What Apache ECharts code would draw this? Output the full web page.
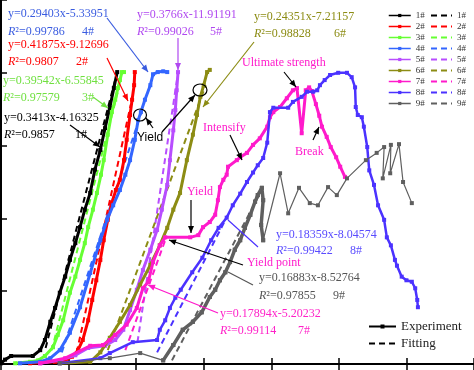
<!DOCTYPE html>
<html><head><meta charset="utf-8">
<script src="https://cdn.jsdelivr.net/npm/echarts@6/dist/echarts.min.js"></script>
<style>html,body{margin:0;padding:0;background:#fff}#c{width:474px;height:370px}</style>
</head><body><div id="c"></div>
<script>
// ---------- data (x: displacement in tick units, y: load in tick units) ----------
const sampleNames = ['1#','2#','3#','4#','5#','6#','7#','8#','9#'];
const colors = ['#000000','#ff0000','#66ff33','#3366ff','#b84dff','#8c8c14','#ff1acb','#4b32ff','#5f5f5f'];
const textColors = ['#000000','#ff0000','#70e040','#3a5ce0','#b048f0','#8c8c14','#ff22c8','#5a4cff','#555555'];

const exp1 = [[0,0.01],[0.06,0.06],[0.15,0.11],[0.47,0.11],[0.58,0.19],[0.65,0.33],[0.73,0.58],[0.8,0.77],[0.87,0.98],[0.95,1.2],[1.02,1.43],[1.1,1.66],[1.17,1.88],[1.24,2.12],[1.32,2.35],[1.39,2.67],[1.47,2.94],[1.54,3.24],[1.61,3.52],[1.67,3.79],[1.72,4.01]];
const exp2 = [[0.43,0.01],[0.8,0.03],[0.95,0.05],[1.05,0.1],[1.14,0.19],[1.21,0.33],[1.29,0.6],[1.35,0.88],[1.41,1.15],[1.47,1.43],[1.52,1.7],[1.58,1.98],[1.64,2.21],[1.7,2.39],[1.76,2.53],[1.82,2.8],[1.86,3.08],[1.91,3.42],[1.94,3.63],[1.97,3.83],[1.98,4.01]];
const exp3 = [[0.21,0.01],[0.43,0.03],[0.55,0.05],[0.65,0.11],[0.77,0.23],[0.84,0.4],[0.92,0.6],[1.02,0.98],[1.1,1.2],[1.17,1.43],[1.24,1.66],[1.29,1.88],[1.36,2.12],[1.42,2.35],[1.48,2.6],[1.52,2.8],[1.58,3.15],[1.64,3.46],[1.69,3.63],[1.73,3.79],[1.76,3.9],[1.79,4.01],[1.82,4.01]];
const exp4 = [[0.28,0.01],[0.58,0.03],[0.73,0.08],[0.87,0.19],[1.02,0.43],[1.17,0.78],[1.32,1.25],[1.47,1.7],[1.57,1.98],[1.66,2.18],[1.76,2.39],[1.84,2.6],[1.91,2.8],[1.98,3.08],[2.03,3.35],[2.07,3.46],[2.13,3.63],[2.21,3.83],[2.25,3.98],[2.32,4.01],[2.4,4.02],[2.46,4.01]];
const exp5 = [[0.58,0.01],[0.87,0.05],[1.1,0.12],[1.29,0.22],[1.54,0.25],[1.69,0.33],[1.81,0.47],[1.91,0.74],[2.01,1.02],[2.1,1.29],[2.21,1.57],[2.31,1.84],[2.38,2.12],[2.46,2.46],[2.5,2.8],[2.55,3.21],[2.58,3.49],[2.6,3.76],[2.62,4.01]];
const exp6 = [[0.87,0.01],[1.32,0.03],[1.47,0.16],[1.61,0.36],[1.76,0.58],[1.91,0.81],[2.06,1.09],[2.21,1.36],[2.35,1.63],[2.46,1.87],[2.55,2.12],[2.65,2.35],[2.75,2.8],[2.84,3.15],[2.9,3.42],[2.95,3.67],[3.0,3.83],[3.05,4.01],[3.09,4.04]];
const exp7 = [[0.58,0.01],[0.95,0.08],[1.32,0.25],[1.51,0.26],[1.61,0.33],[1.69,0.4],[1.86,0.54],[2.01,0.77],[2.1,1.04],[2.18,1.13],[2.25,1.4],[2.35,1.63],[2.43,1.74],[2.8,1.74],[2.92,1.77],[2.99,1.88],[3.09,1.95],[3.17,2.05],[3.21,2.25],[3.24,2.43],[3.29,2.53],[3.34,2.6],[3.36,2.71],[3.49,2.8],[3.54,2.84],[3.64,2.9],[3.73,3.01],[3.83,3.1],[3.94,3.26],[3.98,3.39],[4.03,3.46],[4.13,3.53],[4.23,3.65],[4.32,3.76],[4.38,3.79],[4.45,3.17],[4.51,3.76],[4.56,3.8],[4.6,3.75],[4.66,3.57],[4.71,3.41],[4.75,3.26],[4.82,3.12],[4.88,2.98],[4.96,2.84],[5.02,2.71],[5.09,2.57]];
const exp8 = [[0.87,0.01],[1.47,0.08],[1.61,0.15],[1.95,0.3],[2.31,0.33],[2.35,0.47],[2.43,0.6],[2.5,0.77],[2.58,0.91],[2.66,1.02],[2.83,1.26],[2.98,1.46],[3.11,1.7],[3.22,1.87],[3.34,2.01],[3.43,2.18],[3.54,2.34],[3.64,2.5],[3.73,2.63],[3.8,2.73],[3.88,2.83],[3.94,3.04],[3.98,3.46],[4.03,3.52],[4.25,3.52],[4.32,3.6],[4.45,3.67],[4.53,3.74],[4.62,3.74],[4.68,3.76],[4.72,3.83],[4.79,3.9],[4.87,3.97],[4.99,4.0],[5.12,4.0],[5.19,3.94],[5.24,3.8],[5.25,3.53],[5.28,3.42],[5.34,3.39],[5.37,3.26],[5.42,2.98],[5.45,2.66],[5.52,2.46],[5.58,2.18],[5.67,1.98],[5.71,1.74],[5.77,1.63],[5.83,1.43],[5.86,1.35],[5.93,1.2],[6.0,1.15],[6.08,1.13],[6.13,1.04],[6.16,0.88],[6.17,0.78]];
const exp9 = [[0.87,0.01],[1.61,0.08],[2.06,0.15],[2.4,0.05],[2.55,0.26],[2.69,0.47],[2.84,0.58],[2.97,0.71],[3.09,0.92],[3.17,1.02],[3.24,1.15],[3.32,1.26],[3.39,1.4],[3.46,1.57],[3.54,1.7],[3.61,1.87],[3.69,2.05],[3.76,2.23],[3.8,2.32],[3.86,2.42],[3.88,2.25],[3.85,1.91],[3.88,1.7],[4.13,2.62],[4.25,2.07],[4.41,2.42],[4.57,2.21],[4.69,2.18],[4.84,2.43],[4.97,2.32],[5.12,2.55],[5.4,2.8],[5.56,2.9],[5.67,2.98],[5.65,2.55],[5.77,3.01],[5.76,2.62],[5.89,3.02],[5.95,2.5],[6.08,2.21]];

const fit1 = [[0.66,0.22],[1.72,4.01]];
const fit2 = [[1.12,0.16],[1.92,3.56]];
const fit3 = [[0.75,0.19],[1.73,3.74]];
const fit4 = [[0.9,0.16],[2.09,3.49]];
const fit5 = [[2.02,0.3],[2.62,4.0]];
const fit6 = [[1.58,0.19],[3.03,3.83]];
const fit7 = [[1.84,0.19],[2.43,1.7]];
const fit8 = [[2.31,0.16],[3.36,2.05]];
const fit9 = [[2.53,0.05],[3.86,2.39]];

const equations = ['y=0.3413x-4.16325','y=0.41875x-9.12696','y=0.39542x-6.55845','y=0.29403x-5.33951','y=0.3766x-11.91191','y=0.24351x-7.21157','y=0.17894x-5.20232','y=0.18359x-8.04574','y=0.16883x-8.52764'];
const r2 = ['0.9857','0.9807','0.97579','0.99786','0.99026','0.98828','0.99114','0.99422','0.97855'];

const expData = [exp1,exp2,exp3,exp4,exp5,exp6,exp7,exp8,exp9];
const fitData = [fit1,fit2,fit3,fit4,fit5,fit6,fit7,fit8,fit9];

// ---------- chart ----------
const SERIF = "'Liberation Serif','Times New Roman',serif";
const SANS = "'Liberation Sans',Arial,sans-serif";
const chart = echarts.init(document.getElementById('c'), null, {renderer:'canvas'});

const series = [];
sampleNames.forEach((n,i)=>{
  series.push({name:n, type:'line', data:expData[i], color:colors[i],
    symbol:'rect', symbolSize:4, showSymbol:true,
    lineStyle:{width:(i===8?1.2:(i===7?2.5:3)), color:colors[i]},
    itemStyle:{color:colors[i]}, z:3+i});
});
// dense (thick) loading part of 9#
series.push({name:'9#', type:'line', data:exp9.slice(3,23), color:colors[8], symbol:'rect', symbolSize:4,
  lineStyle:{width:3.5,color:colors[8]}, itemStyle:{color:colors[8]}, z:12});
sampleNames.forEach((n,i)=>{
  series.push({name:n+'fit', type:'line', data:fitData[i], color:colors[i],
    symbol:'none', lineStyle:{width:2, type:[6,4], color:colors[i]}, itemStyle:{color:colors[i],opacity:0}, z:2});
});
series.push({name:'Experiment', type:'line', data:[], color:'#000', symbol:'rect', symbolSize:4, lineStyle:{width:1.5,color:'#000'}});
series.push({name:'Fitting', type:'line', data:[], color:'#000', symbol:'none', lineStyle:{width:2,type:[6,4],color:'#000'}, itemStyle:{color:'#000',opacity:0}});

// annotation layout (pixels)
const g = [];
function txt(t,x,y,color,font,size,rich){
  const st = {text:t, fill:color, fontFamily:font||SERIF, fontSize:size||12, align:'left', verticalAlign:'middle'};
  if(rich) st.rich = {i:{fontStyle:'italic', fontFamily:font||SERIF, fontSize:size||12, fill:color}};
  g.push({type:'text', x:x, y:y, style:st, z:100});
}
function arrow(x1,y1,x2,y2,color,head){
  g.push({type:'line', shape:{x1,y1,x2,y2}, style:{stroke:color, lineWidth:1.2}, z:100});
  if(head!==false){
    const a = Math.atan2(y2-y1,x2-x1), L=7, W=3;
    const bx = x2-L*Math.cos(a), by = y2-L*Math.sin(a);
    g.push({type:'polygon', shape:{points:[[x2,y2],[bx+W*Math.sin(a),by-W*Math.cos(a)],[bx-W*Math.sin(a),by+W*Math.cos(a)]]}, style:{fill:color}, z:100});
  }
}
const eqPos = [[4,118,135,75],[8,45,62,76],[3,81,98,82],[8,14,32,82],[137,15,32,210],[254,17,34,334],[220,314,331,298],[276,235,251,350],[259,278,296,333]];
eqPos.forEach((p,i)=>{
  const c = textColors[i];
  txt(equations[i], p[0], p[1], c);
  txt('{i|R}\u00b2='+r2[i], p[0], p[2], c, SERIF, 12, true);
  txt(sampleNames[i], p[3], p[2], c);
});
txt('Ultimate strength',242,63,'#ff1acb');
txt('Intensify',203,128,'#ff1acb');
txt('Break',295,152,'#ff1acb');
txt('Yield',187,192,'#ff1acb');
txt('Yield point',247,263,'#ff1acb');
txt('Yield',137,138,'#000',SANS,12);

arrow(107,18,148,72,textColors[3]);
arrow(107,58,128,101,'#ff0000');
arrow(93,97,108,108,textColors[2]);
arrow(70,125,100,147,'#000');
arrow(178,38,178,70,textColors[4]);
arrow(254,42,203,107,'#8c8c14');
arrow(153,128,146,118,'#000');
arrow(162,132,195,95,'#000');
arrow(284,72,296,87,'#000');
arrow(313,140,319,127,'#000');
arrow(230,135,242,160,'#000');
arrow(191,200,191,233,'#000');
arrow(243,265,169,240,'#000');
arrow(253,285,228,272,'#555',false);
arrow(258,247,228,220,'#4b32ff',false);
arrow(218,313,148,285,'#ff1acb');
g.push({type:'ellipse', shape:{cx:140,cy:115,rx:6.5,ry:6}, style:{fill:'none',stroke:'#000',lineWidth:1.2}, z:100});
g.push({type:'ellipse', shape:{cx:200,cy:90,rx:7,ry:6}, style:{fill:'none',stroke:'#000',lineWidth:1.2}, z:100});

const axisCommon = {type:'value', axisLabel:{show:false}, splitLine:{show:false}};
chart.setOption({
  animation:false,
  backgroundColor:'#fff',
  grid:{left:1, right:0, top:0, bottom:6, containLabel:false},
  xAxis:[
    Object.assign({}, axisCommon, {min:0,max:7,interval:1,position:'bottom',
      axisLine:{show:true,lineStyle:{color:'#000',width:2}},
      axisTick:{inside:true,length:6,lineStyle:{color:'#000',width:1.5}}}),
    Object.assign({}, axisCommon, {min:0,max:7,interval:1,position:'top',
      axisLine:{show:false}, axisTick:{show:true,inside:true,length:6,lineStyle:{color:'#000',width:1.5}}})
  ],
  yAxis:[
    Object.assign({}, axisCommon, {min:0,max:5,interval:1,position:'left',
      axisLine:{show:true,lineStyle:{color:'#000',width:2}},
      axisTick:{inside:true,length:6,lineStyle:{color:'#000',width:1.5}}}),
    Object.assign({}, axisCommon, {min:0,max:5,interval:1,position:'right',
      axisLine:{show:false}, axisTick:{show:true,inside:true,length:7,lineStyle:{color:'#000',width:1.5}}})
  ],
  legend:[
    {data:sampleNames, orient:'vertical', left:388, top:11, padding:0, itemGap:2, itemWidth:22, itemHeight:4, itemTextGap:3,
     lineStyle:{width:1.5}, textStyle:{fontSize:9, lineHeight:9, fontFamily:SERIF, color:'#333'}},
    {data:sampleNames.map(n=>n+'fit'), orient:'vertical', left:430, top:11, padding:0, itemGap:2, itemWidth:21, itemHeight:4, itemTextGap:4,
     itemStyle:{opacity:0},
     formatter:n=>n.replace('fit',''), lineStyle:{width:2}, textStyle:{fontSize:9, lineHeight:9, fontFamily:SERIF, color:'#333'}},
    {data:['Experiment',{name:'Fitting',itemStyle:{opacity:0}}], orient:'vertical', left:368, top:320, padding:0, itemGap:4, itemWidth:27, itemHeight:5, itemTextGap:3,
     textStyle:{fontSize:13, lineHeight:12, fontFamily:SERIF, color:'#222'}}
  ],
  series:series,
  graphic:g
});
</script></body></html>
